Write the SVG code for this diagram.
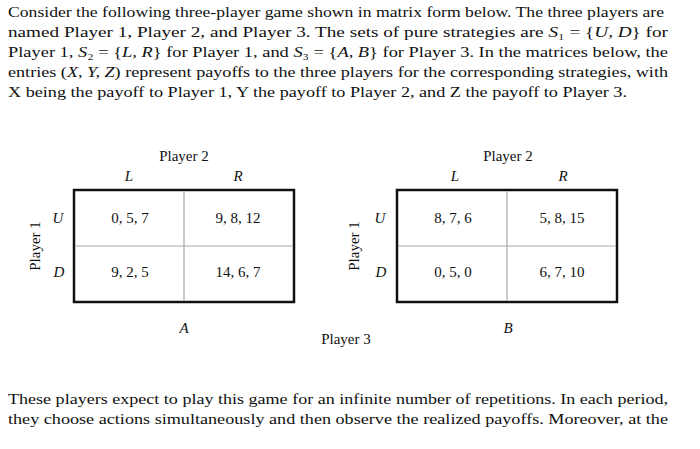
<svg xmlns="http://www.w3.org/2000/svg" width="700" height="449" viewBox="0 0 700 449">
<style>
text{font-family:"Liberation Serif","DejaVu Serif",serif;font-size:15px;fill:#111}
.c{text-anchor:middle}
.i{font-style:italic}
.box{fill:none;stroke:#111;stroke-width:2.5}
.grid{stroke:#aaa;stroke-width:1.2}
</style>
<rect width="700" height="449" fill="#fff"/>
<g id="intro">
<text x="8" y="17" textLength="656" lengthAdjust="spacingAndGlyphs">Consider the following three-player game shown in matrix form below. The three players are</text>
<text x="8" y="37" textLength="660" lengthAdjust="spacingAndGlyphs">named Player 1, Player 2, and Player 3. The sets of pure strategies are <tspan class="i">S</tspan>₁ = {<tspan class="i">U, D</tspan>} for</text>
<text x="8" y="57" textLength="660" lengthAdjust="spacingAndGlyphs">Player 1, <tspan class="i">S</tspan>₂ = {<tspan class="i">L, R</tspan>} for Player 1, and <tspan class="i">S</tspan>₃ = {<tspan class="i">A, B</tspan>} for Player 3. In the matrices below, the</text>
<text x="8" y="77" textLength="660" lengthAdjust="spacingAndGlyphs">entries (<tspan class="i">X, Y, Z</tspan>) represent payoffs to the three players for the corresponding strategies, with</text>
<text x="8" y="97" textLength="619" lengthAdjust="spacingAndGlyphs">X being the payoff to Player 1, Y the payoff to Player 2, and Z the payoff to Player 3.</text>
</g>
<g id="matrixA">
<rect class="box" x="74" y="190" width="220" height="112"/>
<line class="grid" x1="184" y1="191" x2="184" y2="301"/>
<line class="grid" x1="75" y1="246" x2="293" y2="246"/>
<text class="c" x="184" y="161">Player 2</text>
<text class="c i" x="129" y="181">L</text>
<text class="c i" x="238" y="181">R</text>
<text class="c" transform="translate(40,246) rotate(-90)">Player 1</text>
<text class="c i" x="58" y="223">U</text>
<text class="c i" x="59" y="277">D</text>
<text class="c" x="130" y="223">0, 5, 7</text>
<text class="c" x="238" y="223">9, 8, 12</text>
<text class="c" x="130" y="277">9, 2, 5</text>
<text class="c" x="238" y="277">14, 6, 7</text>
<text class="c i" x="184" y="333">A</text>
</g>
<g id="matrixB">
<rect class="box" x="397" y="190" width="220" height="112"/>
<line class="grid" x1="507" y1="191" x2="507" y2="301"/>
<line class="grid" x1="398" y1="246" x2="616" y2="246"/>
<text class="c" x="508" y="161">Player 2</text>
<text class="c i" x="455" y="181">L</text>
<text class="c i" x="563" y="181">R</text>
<text class="c" transform="translate(359,246) rotate(-90)">Player 1</text>
<text class="c i" x="380" y="223">U</text>
<text class="c i" x="381" y="277">D</text>
<text class="c" x="453" y="223">8, 7, 6</text>
<text class="c" x="562" y="223">5, 8, 15</text>
<text class="c" x="453" y="277">0, 5, 0</text>
<text class="c" x="562" y="277">6, 7, 10</text>
<text class="c i" x="508" y="333">B</text>
</g>
<text class="c" x="346" y="344">Player 3</text>
<g id="outro">
<text x="8" y="404" textLength="660" lengthAdjust="spacingAndGlyphs">These players expect to play this game for an infinite number of repetitions. In each period,</text>
<text x="8" y="424" textLength="660" lengthAdjust="spacingAndGlyphs">they choose actions simultaneously and then observe the realized payoffs. Moreover, at the</text>
</g>
</svg>
